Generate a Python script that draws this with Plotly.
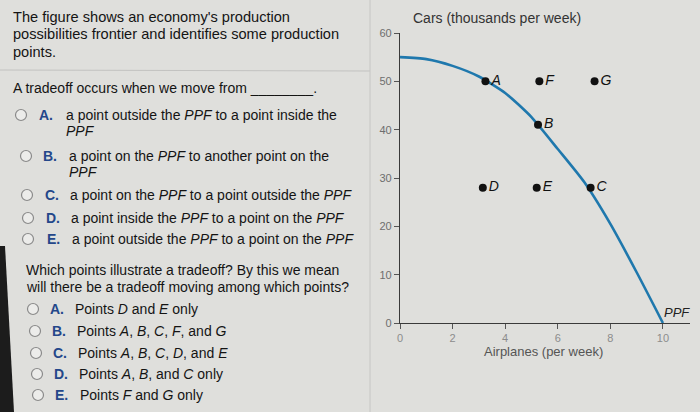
import plotly.graph_objects as go

# ---------------- data ----------------
ppf_x = [0, 1, 2, 3, 4, 5, 6, 7, 8, 9, 10]
ppf_y = [55, 54.6, 53.2, 51, 47.6, 42.6, 36, 29.2, 20.5, 10.5, 0]

point_names = ["A", "F", "G", "B", "D", "E", "C"]
point_x = [3.25, 5.3, 7.4, 5.25, 3.15, 5.2, 7.25]
point_y = [50, 50, 50, 41, 28, 28, 28]

x_ticks = [0, 2, 4, 6, 8, 10]
y_ticks = [0, 10, 20, 30, 40, 50, 60]

intro_lines = [
    "The figure shows an economy's production",
    "possibilities frontier and identifies some production",
    "points.",
]
q1_text = "A tradeoff occurs when we move from ________."
q1_letters = ["A.", "B.", "C.", "D.", "E."]
q1_options = [
    "a point outside the <i>PPF</i> to a point inside the",
    "a point on the <i>PPF</i> to another point on the",
    "a point on the <i>PPF</i> to a point outside the <i>PPF</i>",
    "a point inside the <i>PPF</i> to a point on the <i>PPF</i>",
    "a point outside the <i>PPF</i> to a point on the <i>PPF</i>",
]
q1_cont = ["<i>PPF</i>", "<i>PPF</i>", None, None, None]
q2_lines = [
    "Which points illustrate a tradeoff? By this we mean",
    "will there be a tradeoff moving among which points?",
]
q2_letters = ["A.", "B.", "C.", "D.", "E."]
q2_options = [
    "Points <i>D</i> and <i>E</i> only",
    "Points <i>A</i>, <i>B</i>, <i>C</i>, <i>F</i>, and <i>G</i>",
    "Points <i>A</i>, <i>B</i>, <i>C</i>, <i>D</i>, and <i>E</i>",
    "Points <i>A</i>, <i>B</i>, and <i>C</i> only",
    "Points <i>F</i> and <i>G</i> only",
]

# ---------------- layout geometry (pixels) ----------------
FIG_W, FIG_H = 700, 412
ML, MR, MT, MB = 400, 10, 33, 89
PW = FIG_W - ML - MR
PH = FIG_H - MT - MB


def pxx(x):
    return (x - ML) / PW


def pxy(y):
    return (FIG_H - MB - y) / PH


FONT = "Liberation Sans, Arial, Helvetica, sans-serif"
TXT = "#141414"
BLUE = "#24478a"

fig = go.Figure()

fig.add_trace(go.Scatter(
    x=ppf_x, y=ppf_y, mode="lines",
    line=dict(color="#1f78ad", width=2.6, shape="spline", smoothing=0.6),
    hoverinfo="skip", showlegend=False,
))
fig.add_trace(go.Scatter(
    x=point_x, y=point_y, mode="markers+text",
    marker=dict(color="#111111", size=8),
    text=["<i>%s</i>" % n for n in point_names],
    textposition="middle right",
    textfont=dict(family=FONT, size=14, color="#111111"),
    showlegend=False,
))

annotations = []
shapes = []


def add_text(x, y, s, size=14, color=TXT, bold=False):
    if bold:
        s = "<b>%s</b>" % s
    annotations.append(dict(
        x=pxx(x), y=pxy(y), xref="paper", yref="paper", text=s,
        showarrow=False, xanchor="left", yanchor="middle",
        font=dict(family=FONT, size=size, color=color),
    ))


def add_radio(cx, cy, r=5.5):
    shapes.append(dict(
        type="circle", xref="paper", yref="paper",
        x0=pxx(cx - r), x1=pxx(cx + r), y0=pxy(cy + r), y1=pxy(cy - r),
        line=dict(color="#8a8a8a", width=1.2), fillcolor="#ececea",
    ))


# intro
for i, line in enumerate(intro_lines):
    add_text(11, 17 + i * 17.5, line, size=14.6)
add_text(11, 88, q1_text)

q1_y = [115, 156, 195, 218, 239]
q1_circle_x = [21, 26, 27, 28, 28]
q1_letter_x = [37, 41, 43, 44, 45]
q1_text_x = [64, 67, 68, 69, 70]
for i in range(5):
    add_radio(q1_circle_x[i], q1_y[i])
    add_text(q1_letter_x[i], q1_y[i], q1_letters[i], color=BLUE, bold=True)
    add_text(q1_text_x[i], q1_y[i], q1_options[i])
    if q1_cont[i]:
        add_text(q1_text_x[i], q1_y[i] + 15.5, q1_cont[i])

for i, line in enumerate(q2_lines):
    add_text(24, 270 + i * 16.5, line)

q2_y = [309, 331, 353, 374, 395]
q2_circle_x = [33, 35, 36, 37, 38]
q2_letter_x = [48, 50, 51, 52, 53]
q2_text_x = [73, 75, 76, 77, 78]
for i in range(5):
    add_radio(q2_circle_x[i], q2_y[i])
    add_text(q2_letter_x[i], q2_y[i], q2_letters[i], color=BLUE, bold=True)
    add_text(q2_text_x[i], q2_y[i], q2_options[i])

# axis titles and PPF label
annotations.append(dict(
    x=pxx(411), y=pxy(18), xref="paper", yref="paper",
    text="Cars (thousands per week)", showarrow=False,
    xanchor="left", yanchor="middle",
    font=dict(family=FONT, size=14, color="#333333"),
))
annotations.append(dict(
    x=pxx(543), y=pxy(351), xref="paper", yref="paper",
    text="Airplanes (per week)", showarrow=False,
    xanchor="center", yanchor="middle",
    font=dict(family=FONT, size=13, color="#555555"),
))
annotations.append(dict(
    x=10.55, y=2.2, xref="x", yref="y", text="<i>PPF</i>", showarrow=False,
    xanchor="center", yanchor="middle",
    font=dict(family=FONT, size=13, color="#222222"),
))

# separators and photo edge
shapes.append(dict(type="line", xref="paper", yref="paper",
                   x0=pxx(0), x1=pxx(370), y0=pxy(70), y1=pxy(71),
                   line=dict(color="#c2c2c0", width=1)))
shapes.append(dict(type="line", xref="paper", yref="paper",
                   x0=pxx(370), x1=pxx(370), y0=pxy(0), y1=pxy(412),
                   line=dict(color="#c6c6c4", width=1)))
shapes.append(dict(
    type="path", xref="paper", yref="paper",
    path="M %f,%f L %f,%f L %f,%f L %f,%f Z" % (
        pxx(0), pxy(246), pxx(5), pxy(246), pxx(14), pxy(412), pxx(0), pxy(412)),
    fillcolor="#1c1c1c", line=dict(width=0),
))

fig.update_layout(
    width=FIG_W, height=FIG_H,
    margin=dict(l=ML, r=MR, t=MT, b=MB),
    paper_bgcolor="#dfdfdc", plot_bgcolor="rgba(0,0,0,0)",
    font=dict(family=FONT),
    annotations=annotations, shapes=shapes,
    xaxis=dict(range=[0, 11.03], tickvals=x_ticks, ticktext=[str(v) for v in x_ticks],
               showgrid=False, zeroline=False, showline=True, linecolor="#3a3a3a",
               linewidth=1.3, ticks="outside", ticklen=5, tickcolor="#555555",
               tickfont=dict(size=11, color="#8c8c8c")),
    yaxis=dict(range=[0, 60], tickvals=y_ticks, ticktext=[str(v) for v in y_ticks],
               showgrid=False, zeroline=False, showline=True, linecolor="#3a3a3a",
               linewidth=1.3, ticks="outside", ticklen=5, tickcolor="#555555",
               tickfont=dict(size=11, color="#6e6e6e")),
)

fig.write_html(
    "out.html",
    config={"displayModeBar": False},
    post_script="document.body.style.margin='0px';document.body.style.overflow='hidden';",
)
